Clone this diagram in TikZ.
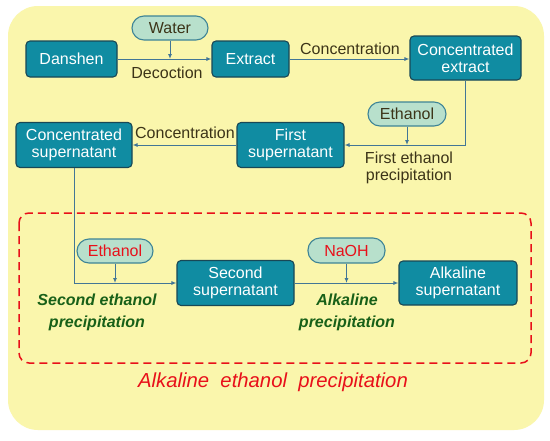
\documentclass[tikz,border=0pt]{standalone}
\usepackage{fontspec}
\setmainfont{Liberation Sans}
\usetikzlibrary{arrows.meta}
\definecolor{bgyellow}{RGB}{250,246,172}
\definecolor{boxteal}{RGB}{16,140,162}
\definecolor{boxedge}{RGB}{24,72,86}
\definecolor{pillgreen}{RGB}{184,224,204}
\definecolor{pilledge}{RGB}{62,132,150}
\definecolor{flowline}{RGB}{66,118,150}
\definecolor{labeltext}{RGB}{60,52,24}
\definecolor{darkgreen}{RGB}{24,96,24}
\definecolor{alkred}{RGB}{232,16,26}
\tikzset{
  stepbox/.style={draw=boxedge, fill=boxteal, line width=1.1pt, rounded corners=4pt, text=white, align=center, inner sep=0pt, font=\fontsize{16}{17}\selectfont},
  agent/.style={draw=pilledge, fill=pillgreen, line width=1.1pt, rounded corners=12pt, text=labeltext, inner sep=0pt, font=\fontsize{16}{17}\selectfont},
  flow/.style={->, >={Latex[length=5pt,width=4pt]}, flowline, line width=1pt},
  steplabel/.style={text=labeltext, align=center, font=\fontsize{16}{17}\selectfont},
  altlabel/.style={text=darkgreen, align=center, font=\fontsize{16}{22}\selectfont\bfseries\itshape}
}
\begin{document}
\begin{tikzpicture}[x=1pt,y=-1pt]
      \useasboundingbox (0,0) rectangle (550,440);
      \fill[white] (0,0) rectangle (550,440);
      \fill[bgyellow, rounded corners=30pt] (8,6) rectangle (544,430);
      \draw[alkred, line width=1.5pt, dash pattern=on 8pt off 5pt, rounded corners=10pt] (19,213) rectangle (531,363);
      % process steps
      \node[stepbox, minimum width=91pt, minimum height=36pt] (danshen) at (71.5,59) {Danshen};
      \node[stepbox, minimum width=77pt, minimum height=36pt] (extract) at (250.5,59) {Extract};
      \node[stepbox, minimum width=111pt, minimum height=44pt] (cextract) at (465.5,58) {Concentrated\\extract};
      \node[stepbox, minimum width=107pt, minimum height=45pt] (fsup) at (290.5,145) {First\\supernatant};
      \node[stepbox, minimum width=116pt, minimum height=45pt] (csup) at (74,145) {Concentrated\\supernatant};
      \node[stepbox, minimum width=117pt, minimum height=45pt] (ssup) at (235.5,283) {Second\\supernatant};
      \node[stepbox, minimum width=118pt, minimum height=44pt] (asup) at (458,283) {Alkaline\\supernatant};
      % added agents
      \node[agent, minimum width=76pt, minimum height=24pt] (water) at (170,28) {Water};
      \node[agent, minimum width=78pt, minimum height=24pt] (ethanolA) at (407,114) {Ethanol};
      \node[agent, minimum width=76pt, minimum height=24pt, text=alkred] (ethanolB) at (115,251) {Ethanol};
      \node[agent, minimum width=77pt, minimum height=25pt, text=alkred] (naoh) at (346.5,250.5) {NaOH};
      % connectors
      \draw[flow] (danshen) -- (extract);
      \draw[flow] (water) -- (water |- danshen.east);
      \draw[flow] (extract) -- (cextract.west |- extract);
      \draw[flow] (cextract.south) |- (fsup.east);
      \draw[flow] (ethanolA) -- (ethanolA |- fsup.east);
      \draw[flow] (fsup) -- (csup);
      \draw[flow] (csup.south) |- (ssup.west);
      \draw[flow] (ethanolB) -- (ethanolB |- ssup.west);
      \draw[flow] (ssup) -- (asup);
      \draw[flow] (naoh) -- (naoh |- ssup.east);
      % labels
      \node[steplabel] (decoction) at (167,73) {Decoction};
      \node[steplabel] (concA) at (350,49) {Concentration};
      \node[steplabel] (firstpre) at (409,168) {First ethanol\\precipitation};
      \node[steplabel] (concB) at (185,133) {Concentration};
      \node[altlabel] (secondpre) at (97,312) {Second ethanol\\precipitation};
      \node[altlabel] (alkpre) at (347,312) {Alkaline\\precipitation};
      \node[text=alkred, font=\fontsize{20.3}{22}\selectfont\itshape] (title) at (273,382) {Alkaline\ \ ethanol\ \ precipitation};
\end{tikzpicture}
\end{document}
